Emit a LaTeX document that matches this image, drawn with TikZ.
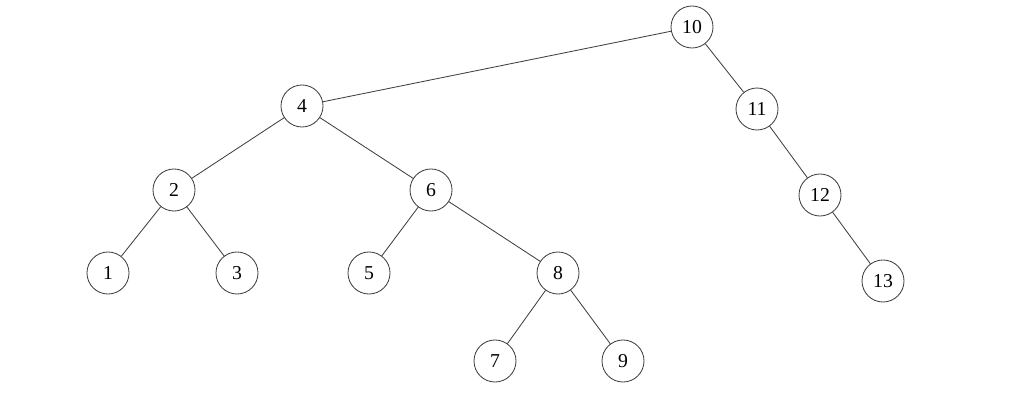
\documentclass[tikz,border=0pt]{standalone}
\usepackage{fontspec}
\setmainfont{Liberation Serif}
\begin{document}
\begin{tikzpicture}[x=0.025cm,y=-0.025cm,line width=0.6pt,draw=black!75,main node/.style={circle,draw=black!75,minimum size=1.05cm,inner sep=0pt,font=\fontsize{14}{16}\selectfont}]
        \useasboundingbox (0,0) rectangle (1024,405);
        \node[main node] at (692, 27) (n10) {10};
        \node[main node] at (302, 106) (n4) {4};
        \node[main node] at (757, 109) (n11) {11};
        \node[main node] at (174, 190) (n2) {2};
        \node[main node] at (431, 190) (n6) {6};
        \node[main node] at (820, 195) (n12) {12};
        \node[main node] at (108, 273) (n1) {1};
        \node[main node] at (237, 273) (n3) {3};
        \node[main node] at (369, 273) (n5) {5};
        \node[main node] at (558, 273) (n8) {8};
        \node[main node] at (883, 281) (n13) {13};
        \node[main node] at (495, 361) (n7) {7};
        \node[main node] at (623, 361) (n9) {9};

        \path[draw=black!75]
            (n10) edge (n4)
            (n10) edge (n11)
            (n11) edge (n12)
            (n12) edge (n13)
            (n4) edge (n2)
            (n4) edge (n6)
            (n2) edge (n1)
            (n2) edge (n3)
            (n6) edge (n5)
            (n6) edge (n8)
            (n8) edge (n7)
            (n8) edge (n9)
            ;
    \end{tikzpicture}
\end{document}
